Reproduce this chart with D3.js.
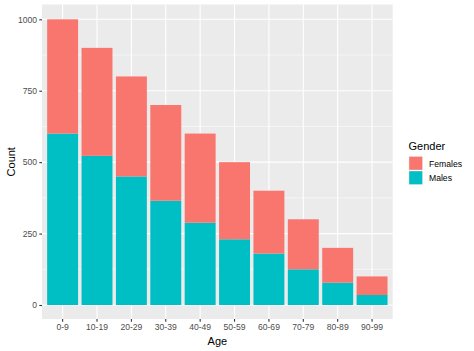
<!DOCTYPE html>
<html><head><meta charset="utf-8">
<script src="https://cdn.jsdelivr.net/npm/d3@7"></script>
<style>body{margin:0;background:#fff}svg{display:block;font-family:"Liberation Sans",Arial,sans-serif}</style>
</head><body>
<svg id="c" width="474" height="351"></svg>
<script>
const ageGroups = ["0-9","10-19","20-29","30-39","40-49","50-59","60-69","70-79","80-89","90-99"];
const males   = [600, 522, 450, 365, 288, 230, 180, 125, 78, 35];
const females = [400, 378, 350, 335, 312, 270, 220, 175, 122, 65];
const yTicks = [0, 250, 500, 750, 1000];
const seriesNames = ["Females", "Males"];
const seriesColors = ["#F8766D", "#00BFC4"];

const svg = d3.select("#c");
const P = {l: 42, r: 392.7, t: 4.5, b: 319};
const x = d3.scaleBand().domain(ageGroups).range([P.l, P.r]).paddingInner(0.1).paddingOuter(0.15);
const y = d3.scaleLinear().domain([0, 1000]).range([305, 19.3]);

svg.append("rect").attr("x", P.l).attr("y", P.t).attr("width", P.r - P.l).attr("height", P.b - P.t).attr("fill", "#EBEBEB");
const g = svg.append("g");
const minor = [125, 375, 625, 875];
g.selectAll(".mn").data(minor).join("line").attr("x1", P.l).attr("x2", P.r)
  .attr("y1", d => y(d)).attr("y2", d => y(d)).attr("stroke", "#fff").attr("stroke-width", 0.55);
g.selectAll(".mj").data(yTicks).join("line").attr("x1", P.l).attr("x2", P.r)
  .attr("y1", d => y(d)).attr("y2", d => y(d)).attr("stroke", "#fff").attr("stroke-width", 1.1);
g.selectAll(".vx").data(ageGroups).join("line").attr("y1", P.t).attr("y2", P.b)
  .attr("x1", d => x(d) + x.bandwidth() / 2).attr("x2", d => x(d) + x.bandwidth() / 2)
  .attr("stroke", "#fff").attr("stroke-width", 1.1);

const rows = ageGroups.map((a, i) => ({age: a, Males: males[i], Females: females[i]}));
const stack = d3.stack().keys(["Males", "Females"])(rows);
const colorOf = k => seriesColors[seriesNames.indexOf(k)];
svg.selectAll(".layer").data(stack).join("g").attr("fill", d => colorOf(d.key))
  .selectAll("rect").data(d => d).join("rect")
  .attr("x", d => x(d.data.age)).attr("width", x.bandwidth())
  .attr("y", d => y(d[1])).attr("height", d => y(d[0]) - y(d[1]));

const ya = svg.append("g").attr("transform", `translate(${P.l},0)`)
  .call(d3.axisLeft(y).tickValues(yTicks).tickFormat(d3.format("d")).tickSize(2.7).tickPadding(2.2));
const xa = svg.append("g").attr("transform", `translate(0,${P.b})`)
  .call(d3.axisBottom(x).tickSize(2.7).tickPadding(2.4));
[ya, xa].forEach(a => {
  a.select(".domain").remove();
  a.selectAll(".tick line").attr("stroke", "#333333").attr("stroke-width", 1.1);
  a.selectAll(".tick text").attr("fill", "#4D4D4D").style("font-size", "8.6px").style("font-family", "'Liberation Sans',Arial,sans-serif");
});

svg.append("text").attr("x", (P.l + P.r) / 2).attr("y", 345).attr("text-anchor", "middle")
  .attr("font-size", 11).attr("fill", "#000").text("Age");
svg.append("text").attr("transform", `translate(14.5,${(P.t + P.b) / 2}) rotate(-90)`).attr("text-anchor", "middle")
  .attr("font-size", 11).attr("fill", "#000").text("Count");

const lg = svg.append("g");
lg.append("text").attr("x", 408.5).attr("y", 150).attr("font-size", 11).attr("fill", "#000").text("Gender");
seriesNames.forEach((s, i) => {
  lg.append("rect").attr("x", 408.5).attr("y", 156 + i * 14.5).attr("width", 14.5).attr("height", 14.5).attr("fill", "#F2F2F2");
  lg.append("rect").attr("x", 409.2).attr("y", 156.7 + i * 14.5).attr("width", 13.1).attr("height", 13.1).attr("fill", seriesColors[i]);
  lg.append("text").attr("x", 429).attr("y", 163.5 + i * 14.5).attr("dy", "0.35em").attr("font-size", 8.6).attr("fill", "#000").text(s);
});
</script>
</body></html>
